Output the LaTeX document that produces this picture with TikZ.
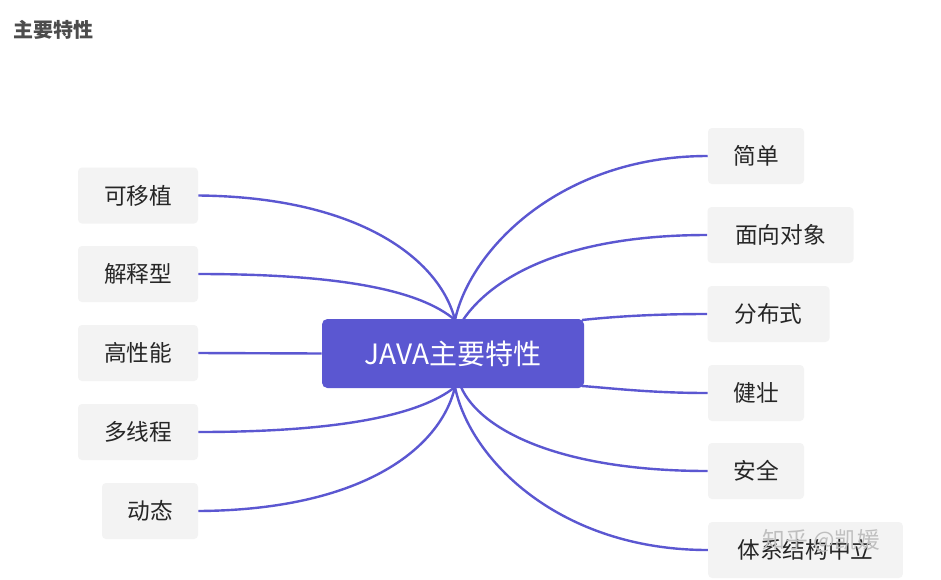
\documentclass[tikz,border=0pt]{standalone}
\usepackage{fontspec}
\setmainfont{Noto Sans CJK SC}
\begin{document}
\begin{tikzpicture}[x=0.75pt,y=-0.75pt,
  leaf/.style={fill=leafgray,rounded corners=3pt,inner sep=0pt,font=\fontsize{17}{20}\selectfont,text=black!85},
  link/.style={draw=mainblue,line width=1.8pt}]
\definecolor{mainblue}{HTML}{5B57D1}
\definecolor{leafgray}{HTML}{F3F3F3}
\useasboundingbox (0,0) rectangle (941,579);
\fill[white] (0,0) rectangle (941,579);
\node[anchor=west,font=\bfseries\fontsize{15}{18}\selectfont,text=black!70] (title) at (9,30) {主要特性};
\node[fill=mainblue,rounded corners=4pt,minimum width=196.5pt,minimum height=51.75pt,inner sep=0pt,text=white,font=\fontsize{21}{24}\selectfont] (c) at (453,353.5) {JAVA主要特性};
% left
\node[leaf,minimum width=90pt,minimum height=42pt] (l1) at (138,195.5) {可移植};
\node[leaf,minimum width=90pt,minimum height=42pt] (l2) at (138,274) {解释型};
\node[leaf,minimum width=90pt,minimum height=42pt] (l3) at (138,353) {高性能};
\node[leaf,minimum width=90pt,minimum height=42pt] (l4) at (138,432) {多线程};
\node[leaf,minimum width=72pt,minimum height=42pt] (l5) at (150,511) {动态};
% right
\node[leaf,minimum width=72pt,minimum height=42pt] (r1) at (756,156) {简单};
\node[leaf,minimum width=109.5pt,minimum height=42pt] (r2) at (780.5,235) {面向对象};
\node[leaf,minimum width=91.5pt,minimum height=42pt] (r3) at (768.5,314) {分布式};
\node[leaf,minimum width=72pt,minimum height=42pt] (r4) at (756,393) {健壮};
\node[leaf,minimum width=72pt,minimum height=42pt] (r5) at (756,471) {安全};
\node[leaf,minimum width=146pt,minimum height=42pt] (r6) at (805.5,550) {体系结构中立};
\coordinate (ct) at (455,320);
\coordinate (ct2) at (463,320);
\coordinate (cb) at (455,387);
\coordinate (cb2) at (461,387);
\coordinate (cr1) at (582,320);
\coordinate (cr2) at (582,386);
\draw[link] (l1.east) .. controls (360,197) and (440,260) .. (ct);
\draw[link] (l2.east) .. controls (340,274) and (420,290) .. (ct);
\draw[link] (l3.east) -- (c.west);
\draw[link] (l4.east) .. controls (340,432) and (420,415) .. (cb);
\draw[link] (l5.east) .. controls (360,510) and (440,450) .. (cb);
\draw[link] (r1.west) .. controls (560,156) and (470,250) .. (ct);
\draw[link] (r2.west) .. controls (560,235) and (490,280) .. (ct2);
\draw[link] (r3.west) .. controls (650,314) and (610,317) .. (cr1);
\draw[link] (r4.west) .. controls (650,393) and (610,388) .. (cr2);
\draw[link] (r5.west) .. controls (560,471) and (480,430) .. (cb2);
\draw[link] (r6.west) .. controls (560,550) and (470,460) .. (cb);
\node[text=black!25,font=\fontsize{17}{20}\selectfont,anchor=west] (wm) at (758,541) {知乎 @凯媛};
\end{tikzpicture}
\end{document}
